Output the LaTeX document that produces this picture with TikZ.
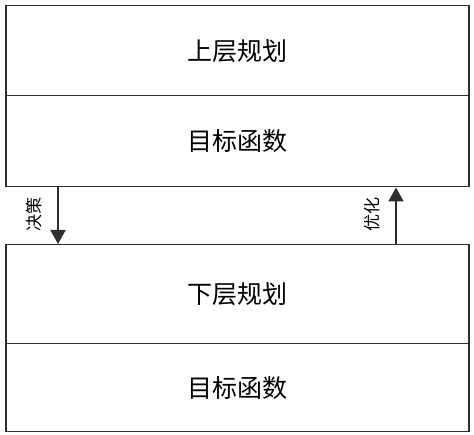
\documentclass[tikz,border=0pt]{standalone}
\usepackage{fontspec}
\setmainfont{Noto Sans CJK SC}
\usetikzlibrary{arrows.meta}
\definecolor{ln}{HTML}{2E2E2E}
\begin{document}
\begin{tikzpicture}[x=1pt,y=1pt,
  boxpart/.style={draw=ln,line width=1.5pt,minimum width=463pt,inner sep=0pt,anchor=north west,font=\fontsize{25}{27}\selectfont},
  arr/.style={draw=ln,line width=2pt,-{Triangle[length=14pt,width=15pt]}},
  lbl/.style={rotate=90,font=\fontsize{17}{18}\selectfont,inner sep=0pt}]
\useasboundingbox (0,0) rectangle (474,-435);
\node[boxpart,minimum height=90pt] (t1) at (5,-5) {上层规划};
\node[boxpart,minimum height=91pt] (t2) at (5,-95) {目标函数};
\node[boxpart,minimum height=99pt] (b1) at (5,-244) {下层规划};
\node[boxpart,minimum height=88pt] (b2) at (5,-343) {目标函数};
\coordinate (la) at (58,-215);
\coordinate (ra) at (396,-215);
\draw[arr] (la |- t2.south) -- (la |- b1.north);
\draw[arr] (ra |- b1.north) -- (ra |- t2.south);
\node[lbl] (l1) at (34,-215) {决策};
\node[lbl] (l2) at (372,-215) {优化};
\end{tikzpicture}
\end{document}
